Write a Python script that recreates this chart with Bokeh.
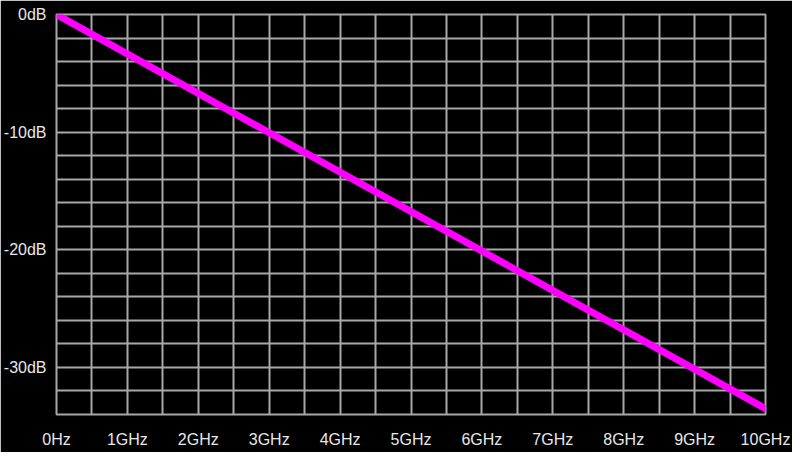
from bokeh.plotting import figure
from bokeh.models import FixedTicker, Range1d
from bokeh.embed import file_html
from bokeh.resources import INLINE

# data
freq_ghz = [0, 10]
loss_db = [0, -33.5]

x_tick_vals = [0, 1, 2, 3, 4, 5, 6, 7, 8, 9, 10]
x_tick_labels = ["0Hz", "1GHz", "2GHz", "3GHz", "4GHz", "5GHz", "6GHz", "7GHz", "8GHz", "9GHz", "10GHz"]
y_tick_vals = [0, -10, -20, -30]
y_tick_labels = ["0dB", "-10dB", "-20dB", "-30dB"]
x_grid_vals = [i * 0.5 for i in range(21)]
y_grid_vals = [-2 * i for i in range(18)]

p = figure(width=792, height=452, output_backend="svg", toolbar_location=None,
           x_range=Range1d(0, 10), y_range=Range1d(-34, 0),
           background_fill_color="black", border_fill_color="black",
           min_border_left=55, min_border_right=27, min_border_top=14, min_border_bottom=38)

grid_color = "#a8a8a8"
p.outline_line_color = grid_color
p.outline_line_width = 2

p.xaxis.ticker = FixedTicker(ticks=x_tick_vals)
p.xaxis.major_label_overrides = {v: l for v, l in zip(x_tick_vals, x_tick_labels)}
p.yaxis.ticker = FixedTicker(ticks=y_tick_vals)
p.yaxis.major_label_overrides = {v: l for v, l in zip(y_tick_vals, y_tick_labels)}

for ax in (p.xaxis[0], p.yaxis[0]):
    ax.axis_line_color = None
    ax.major_tick_line_color = None
    ax.minor_tick_line_color = None
    ax.major_label_text_color = "#e8e8e8"
    ax.major_label_text_font = "Liberation Sans"
    ax.major_label_text_font_size = "16px"
p.xaxis.major_label_standoff = 10
p.yaxis.major_label_standoff = 4

p.xgrid.ticker = FixedTicker(ticks=x_grid_vals)
p.ygrid.ticker = FixedTicker(ticks=y_grid_vals)
for g in (p.xgrid[0], p.ygrid[0]):
    g.grid_line_color = grid_color
    g.grid_line_width = 2

p.line(freq_ghz, loss_db, line_color="#ff00ff", line_width=7, line_cap="round")

open("out.html", "w").write(file_html(p, INLINE))
